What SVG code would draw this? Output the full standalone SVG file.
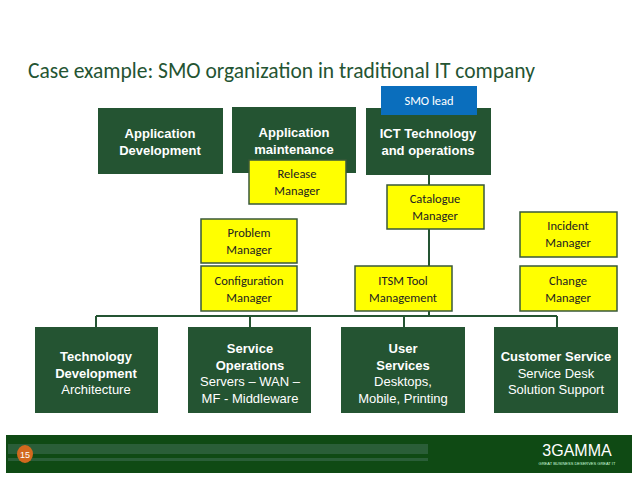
<svg xmlns="http://www.w3.org/2000/svg" width="638" height="479" viewBox="0 0 638 479">
<style>
.g{fill:#245432}
.y{fill:#ffff00;stroke:#38583a;stroke-width:1.5}
.t{font-family:"Liberation Sans",Arial,sans-serif;font-size:13px;fill:#fff;text-anchor:middle}
.b{font-weight:bold}
.k{font-family:Calibri,Carlito,"Open Sans",sans-serif;font-size:12.5px;fill:#222;text-anchor:middle}
.ln{stroke:#245432;stroke-width:2;fill:none}
</style>
<rect width="638" height="479" fill="#fff"/>
<text x="28" y="78" font-family="Calibri,Carlito,'Open Sans',sans-serif" font-size="21.5" fill="#245432">Case example: SMO organization in traditional IT company</text>
<g id="connectors">
<path class="ln" d="M429 175V316M96 316H557M96 316V327M250 316V327M404 316V327M557 316V327"/>
</g>
<g id="appdev"><rect class="g" x="98" y="108" width="125" height="66"/><text class="t b" x="160" y="138">Application</text><text class="t b" x="160" y="155">Development</text></g>
<g id="appmaint"><rect class="g" x="232" y="107" width="124" height="66"/><text class="t b" x="294" y="137">Application</text><text class="t b" x="294" y="154">maintenance</text></g>
<g id="ict"><rect class="g" x="366" y="108" width="125" height="67"/><text class="t b" x="428" y="138">ICT Technology</text><text class="t b" x="428" y="155">and operations</text></g>
<g id="smo"><rect x="381" y="86" width="96" height="29" fill="#0a6ebd"/><text class="k" x="429" y="105" style="fill:#fff">SMO lead</text></g>
<g id="release"><rect class="y" x="249" y="160" width="97" height="44"/><text class="k" x="297" y="178">Release</text><text class="k" x="297" y="195">Manager</text></g>
<g id="catalogue"><rect class="y" x="387" y="185" width="97" height="44"/><text class="k" x="435" y="203">Catalogue</text><text class="k" x="435" y="220">Manager</text></g>
<g id="problem"><rect class="y" x="201" y="219" width="96" height="44"/><text class="k" x="249" y="237">Problem</text><text class="k" x="249" y="254">Manager</text></g>
<g id="config"><rect class="y" x="201" y="266" width="96" height="45"/><text class="k" x="249" y="285">Configuration</text><text class="k" x="249" y="302">Manager</text></g>
<g id="itsm"><rect class="y" x="355" y="266" width="97" height="45"/><text class="k" x="403" y="285">ITSM Tool</text><text class="k" x="403" y="302">Management</text></g>
<g id="incident"><rect class="y" x="520" y="212" width="97" height="45"/><text class="k" x="568" y="230">Incident</text><text class="k" x="568" y="247">Manager</text></g>
<g id="change"><rect class="y" x="520" y="266" width="97" height="45"/><text class="k" x="568" y="285">Change</text><text class="k" x="568" y="302">Manager</text></g>
<g id="tech"><rect class="g" x="35" y="327" width="123" height="86"/><text class="t b" x="96" y="361">Technology</text><text class="t b" x="96" y="378">Development</text><text class="t" x="96" y="394">Architecture</text></g>
<g id="servops"><rect class="g" x="188" y="327" width="123" height="86"/><text class="t b" x="250" y="353">Service</text><text class="t b" x="250" y="370">Operations</text><text class="t" x="250" y="386">Servers – WAN –</text><text class="t" x="250" y="403">MF - Middleware</text></g>
<g id="user"><rect class="g" x="341" y="327" width="124" height="86"/><text class="t b" x="403" y="353">User</text><text class="t b" x="403" y="370">Services</text><text class="t" x="403" y="386">Desktops,</text><text class="t" x="403" y="403">Mobile, Printing</text></g>
<g id="cust"><rect class="g" x="494" y="327" width="124" height="86"/><text class="t b" x="556" y="361">Customer Service</text><text class="t" x="556" y="378">Service Desk</text><text class="t" x="556" y="394">Solution Support</text></g>
<g id="footer">
<rect x="6" y="435" width="626" height="38" fill="#0f4a14"/>
<rect x="8" y="444" width="420" height="10" fill="#2a5e38"/>
<rect x="8" y="458" width="420" height="3" fill="#2a5e38"/>
<ellipse cx="25" cy="454" rx="8" ry="9" fill="#d2691e"/>
<text x="25" y="458" font-family="Liberation Sans,sans-serif" font-size="9" fill="#fff" text-anchor="middle">15</text>
<text x="577" y="456" font-family="Liberation Sans,sans-serif" font-size="16" fill="#fff" text-anchor="middle">3GAMMA</text>
<text x="577" y="465" font-family="Liberation Sans,sans-serif" font-size="4" fill="#cfd" text-anchor="middle">GREAT BUSINESS DESERVES GREAT IT</text>
</g>
</svg>
